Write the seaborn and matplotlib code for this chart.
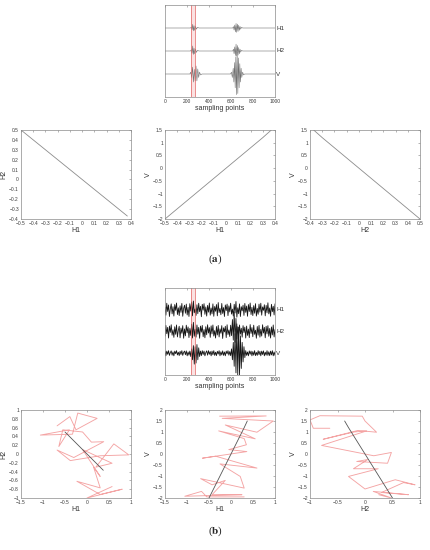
import numpy as np
import pandas as pd
import matplotlib
matplotlib.use("Agg")
import matplotlib.pyplot as plt
import seaborn as sns

# ---- (a) clean waveforms: sample index / amplitude break points ----
a_h1_t = [0, 232, 240, 246, 252, 258, 264, 270, 278, 286, 296, 308,
          616, 622, 628, 634, 640, 646, 652, 658, 664, 670, 676, 682, 688, 696, 706, 1000]
a_h1_v = [0, 0, 0.04, -0.08, 0.16, -0.12, 0.1, -0.1, 0.07, -0.05, 0.03, 0,
          0, 0.06, -0.09, 0.13, -0.17, 0.2, -0.19, 0.17, -0.15, 0.12, -0.1, 0.07, -0.05, 0.03, 0, 0]
a_h2_t = a_h1_t
a_h2_v = [0, 0, 0.06, -0.1, 0.22, -0.15, 0.12, -0.12, 0.08, -0.06, 0.03, 0,
          0, 0.08, -0.12, 0.18, -0.2, 0.3, -0.22, 0.24, -0.18, 0.15, -0.12, 0.08, -0.05, 0.03, 0, 0]
a_v_t = [0, 226, 234, 242, 250, 258, 266, 274, 282, 290, 298, 306, 314, 324, 336,
         596, 604, 612, 620, 626, 632, 638, 644, 650, 656, 662, 668, 674, 680, 686, 692, 698, 706, 714, 724,
         1000]
a_v_v = [0, 0, 0.08, -0.15, 0.3, -0.35, 0.2, -0.3, 0.35, -0.3, 0.22, -0.15, 0.08, -0.04, 0,
         0, 0.08, -0.15, 0.25, -0.35, 0.5, -0.6, 0.75, -0.9, 0.95, -0.85, 0.7, -0.6, 0.45, -0.35, 0.25, -0.15, 0.08, -0.04, 0,
         0]

# ---- (b) noisy waveforms, one value every ~8 samples ----
b_h1_v = [0.12, -0.25, 0.30, -0.08, 0.22, -0.31, 0.05, 0.27, -0.19, 0.14, -0.29, 0.24, -0.03, 0.31, -0.22,
          0.09, -0.27, 0.18, -0.12, 0.29, -0.30, 0.07, 0.21, -0.16, 0.26, -0.24, 0.11, -0.31, 0.28, -0.06,
          0.36, -0.28, 0.40, -0.14, 0.04, -0.26, 0.23, -0.18, 0.30, -0.09, 0.16, -0.32, 0.25, -0.02, 0.28,
          -0.21, 0.13, -0.29, 0.20, -0.11, 0.31, -0.25, 0.08, -0.19, 0.27, -0.30, 0.15, -0.07, 0.24, -0.28,
          0.33, -0.13, 0.06, -0.23, 0.29, -0.17, 0.10, -0.31, 0.22, -0.04, 0.26, -0.27, 0.18, -0.10, 0.30,
          -0.20, 0.03, -0.29, 0.25, -0.15, 0.38, -0.34, 0.09, -0.18, 0.27, -0.31, 0.14, -0.05, 0.21, -0.26,
          0.29, -0.12, 0.17, -0.30, 0.24, -0.08, 0.31, -0.22, 0.11, -0.27, 0.19, -0.16, 0.28, -0.29, 0.06,
          -0.21, 0.26, -0.11, 0.30, -0.25, 0.13, -0.03, 0.23, -0.28, 0.20, -0.14, 0.32, -0.19, 0.08, -0.30,
          0.25, -0.09, 0.16, -0.24, 0.27]
b_h2_v = [-0.21, 0.28, -0.10, 0.19, -0.30, 0.25, -0.04, 0.31, -0.17, 0.08, -0.27, 0.22, -0.13, 0.30, -0.25,
          0.05, 0.24, -0.29, 0.16, -0.08, 0.27, -0.31, 0.12, -0.20, 0.29, -0.06, 0.21, -0.28, 0.14, -0.18,
          0.34, -0.30, 0.42, -0.22, 0.10, -0.26, 0.30, -0.12, 0.19, -0.31, 0.25, -0.03, 0.28, -0.24, 0.09,
          -0.29, 0.22, -0.15, 0.31, -0.07, 0.18, -0.27, 0.26, -0.11, 0.30, -0.21, 0.04, -0.30, 0.23, -0.16,
          0.28, -0.25, 0.12, -0.08, 0.27, -0.32, 0.17, -0.02, 0.24, -0.28, 0.31, -0.14, 0.07, -0.23, 0.29,
          -0.19, 0.55, -0.40, 0.90, -0.50, 0.60, -0.35, 0.22, -0.29, 0.30, -0.12, 0.15, -0.26, 0.27, -0.05,
          0.20, -0.30, 0.25, -0.18, 0.11, -0.28, 0.32, -0.09, 0.18, -0.24, 0.29, -0.13, 0.06, -0.31, 0.23,
          -0.17, 0.28, -0.26, 0.10, -0.21, 0.31, -0.07, 0.19, -0.29, 0.24, -0.11, 0.27, -0.22, 0.14, -0.30,
          0.21, -0.16, 0.30, -0.25, 0.09]
b_v_v = [0.08, -0.12, 0.10, -0.05, 0.12, -0.10, 0.03, 0.11, -0.09, 0.06, -0.12, 0.10, -0.02, 0.12, -0.08,
         0.05, -0.11, 0.09, -0.06, 0.12, -0.10, 0.04, 0.10, -0.07, 0.11, -0.12, 0.06, -0.09,
         0.10, -0.15, 0.20, -0.30, 0.35, -0.50, 0.30, -0.45, 0.40, -0.30, 0.25, -0.15, 0.10,
         -0.11, 0.12, -0.06, 0.10, -0.12, 0.03, 0.11, -0.09, 0.12, -0.05, 0.08, -0.12, 0.10, -0.07,
         0.12, -0.10, 0.05, -0.11, 0.09, -0.04, 0.12, -0.12, 0.07, -0.08, 0.11, -0.10, 0.06, -0.12,
         0.10, -0.03, 0.12, -0.09, 0.08, -0.11,
         0.20, -0.30, 0.50, -0.60, 0.90, -0.90, 1.35, -1.05, 1.20, -1.00, 0.80, -0.70, 0.50, -0.40, 0.30, -0.20,
         0.12, -0.10, 0.06, -0.12, 0.11, -0.05, 0.10, -0.12, 0.08, -0.09, 0.12, -0.11, 0.04, -0.10,
         0.12, -0.07, 0.09, -0.12, 0.10, -0.06, 0.11, -0.12, 0.05, -0.09, 0.12, -0.10, 0.07, -0.11,
         0.10, -0.08, 0.12, -0.12, 0.06, -0.10]

# window (samples) used for the particle motion plots
window = [240, 275]

# ---- particle motion, clean signal in the window ----
pm_h1 = [-0.5, -0.3, -0.1, 0.1, 0.3, 0.37]
pm_h2 = [0.5, 0.3, 0.1, -0.1, -0.3, -0.37]
pm_v = [-2.0, -1.2, -0.4, 0.4, 1.2, 1.5]

# ---- particle motion, noisy signal in the window (traced paths) ----
n_h1h2_x = [-0.68, -0.39, -0.25, 0.23, -0.21, -0.33, -1.06, -0.40, -0.64, -0.55, -0.10, 0.10, 0.38, -0.30,
            -0.68, -0.38, 0.30, 0.95, 0.61, 0.20, 0.57, -0.10, 0.30, 0.15, 0.30, -0.23, 0.30, 0.80, 0.0, 0.57]
n_h1h2_y = [0.64, 0.85, 0.55, 0.81, 0.93, 0.45, 0.43, 0.55, 0.17, 0.55, 0.50, 0.27, 0.28, -0.08,
            0.09, -0.15, -0.04, -0.02, 0.23, -0.30, -0.21, 0.10, -0.51, -0.30, -0.77, -0.62, -0.92, -0.80, -1.0, -0.74]
n_h1v_x = [-0.26, 0.80, -0.20, 0.96, 0.59, -0.13, 0.55, -0.28, 0.30, 0.35, -0.05, 0.36, -0.65, -0.35,
           0.59, -0.25, 0.21, 0.30, -0.69, -0.43, -0.13, -0.43, 0.25, -1.05, -0.67, -0.55, 0.30]
n_h1v_y = [1.72, 1.73, 1.62, 1.50, 0.99, 1.32, 0.69, 1.05, 0.70, 0.42, 0.20, 0.11, -0.19, -0.10,
           -0.64, -0.45, -1.02, -1.55, -1.12, -1.40, -1.20, -1.85, -1.85, -1.92, -1.70, -1.95, -1.95]
n_h2v_x = [-0.64, -0.94, -1.0, -0.82, -0.05, 0.0, 0.21, -0.13, -0.76, -0.20, 0.03, -0.79, 0.16, 0.48,
           0.41, -0.15, 0.05, -0.21, 0.24, -0.30, 0.0, 0.55, 0.91, 0.70, 0.30, 0.79, 0.15, 0.48, 0.25]
n_h2v_y = [1.17, 1.17, 1.55, 1.74, 1.72, 1.50, 0.99, 1.07, 0.67, 1.00, 1.05, 0.39, -0.08, 0.07,
           -0.42, -0.34, -0.25, -0.67, -0.67, -1.02, -1.59, -1.17, -1.40, -1.30, -1.75, -1.85, -1.70, -2.0, -1.85]

trace_names = ["H1", "H2", "V"]
trace_offsets = [3, 2, 1]

sns.set_style("white")
plt.rcParams["font.family"] = ["Liberation Sans", "DejaVu Sans"]
plt.rcParams["mathtext.fontset"] = "stix"

W, H = 430, 550
fig = plt.figure(figsize=(4.3, 5.5), dpi=100)


def add_ax(x0, y0, x1, y1):
    return fig.add_axes([x0 / W, 1 - y1 / H, (x1 - x0) / W, (y1 - y0) / H])


def style(ax):
    for s in ax.spines.values():
        s.set_color("#8a8a8a")
        s.set_linewidth(0.5)
    ax.tick_params(direction="in", length=1.5, width=0.4, labelsize=3.5, pad=1.5,
                   colors="#7a7a7a", labelcolor="#3a3a3a", top=True, right=True,
                   labeltop=False, labelright=False)


def fmt(v):
    s = f"{v:.1f}".rstrip("0").rstrip(".")
    if s in ("-0", ""):
        s = "0"
    return s.replace("-", "\u2212")


def set_ticks(ax, xt, yt):
    ax.set_xticks(xt)
    ax.set_xticklabels([fmt(v) for v in xt])
    ax.set_yticks(yt)
    ax.set_yticklabels([fmt(v) for v in yt])
    ax.set_xlim(xt[0], xt[-1])
    ax.set_ylim(yt[0], yt[-1])


def waveform_panel(ax, traces, color, lw):
    for (t, v), name, off in zip(traces, trace_names, trace_offsets):
        df = pd.DataFrame({"t": t, "amp": np.asarray(v) + off})
        sns.lineplot(data=df, x="t", y="amp", sort=False, estimator=None,
                     color=color, linewidth=lw, ax=ax)
        ax.text(1012, off, name, fontsize=4.5, va="center", ha="left", color="#333333")
    ax.axvspan(window[0], window[1], color="#f9d0d0", alpha=0.6, lw=0)
    for w in window:
        ax.axvline(w, color="#e06060", lw=0.5)
    ax.set_xlim(0, 1000)
    ax.set_ylim(0, 4)
    ax.set_xticks([0, 200, 400, 600, 800, 1000])
    ax.set_yticks([])
    ax.set_xlabel("sampling points", fontsize=5, labelpad=1, color="#333333")
    ax.set_ylabel("")
    style(ax)
    ax.tick_params(left=False, right=False)


def pm_panel(ax, x, y, xl, yl, xt, yt, nx=None, ny=None):
    if nx is not None:
        sns.lineplot(x=nx, y=ny, sort=False, estimator=None, color="#f4a4a4",
                     linewidth=0.65, ax=ax)
    sns.lineplot(x=x, y=y, sort=False, estimator=None,
                 color="#8c8c8c" if nx is None else "#555555", linewidth=0.6, ax=ax)
    set_ticks(ax, xt, yt)
    ax.set_xlabel(xl, fontsize=5, labelpad=1, color="#333333")
    ax.set_ylabel(yl, fontsize=5, labelpad=1, color="#333333")
    style(ax)


def rng(a, b, step):
    return [round(a + i * step, 2) for i in range(int(round((b - a) / step)) + 1)]


# (a)
ax = add_ax(165, 5, 275, 97)
waveform_panel(ax, [(a_h1_t, a_h1_v), (a_h2_t, a_h2_v), (a_v_t, a_v_v)], "#707070", 0.4)

ax = add_ax(21, 130, 131, 219)
pm_panel(ax, pm_h1, pm_h2, "H1", "H2", rng(-0.5, 0.4, 0.1), rng(-0.4, 0.5, 0.1))
ax = add_ax(165, 130, 275, 219)
pm_panel(ax, pm_h1, pm_v, "H1", "V", rng(-0.5, 0.4, 0.1), rng(-2, 1.5, 0.5))
ax = add_ax(310, 130, 420, 219)
pm_panel(ax, pm_h2, pm_v, "H2", "V", rng(-0.4, 0.5, 0.1), rng(-2, 1.5, 0.5))

# (b)
ax = add_ax(165, 288, 275, 375)
waveform_panel(ax, [(np.linspace(0, 1000, len(b_h1_v)), b_h1_v),
                    (np.linspace(0, 1000, len(b_h2_v)), b_h2_v),
                    (np.linspace(0, 1000, len(b_v_v)), b_v_v)], "#161616", 0.6)

ax = add_ax(21, 410, 131, 498)
pm_panel(ax, pm_h1, pm_h2, "H1", "H2", rng(-1.5, 1, 0.5), rng(-1, 1, 0.2), n_h1h2_x, n_h1h2_y)
ax = add_ax(165, 410, 275, 498)
pm_panel(ax, pm_h1, pm_v, "H1", "V", rng(-1.5, 1, 0.5), rng(-2, 2, 0.5), n_h1v_x, n_h1v_y)
ax = add_ax(310, 410, 420, 498)
pm_panel(ax, pm_h2, pm_v, "H2", "V", rng(-1, 1, 0.5), rng(-2, 2, 0.5), n_h2v_x, n_h2v_y)

fig.text(215 / W, 1 - 259 / H, r"($\mathbf{a}$)", ha="center", va="center", fontsize=8,
         family="Liberation Serif")
fig.text(215 / W, 1 - 531 / H, r"($\mathbf{b}$)", ha="center", va="center", fontsize=8,
         family="Liberation Serif")

fig.savefig("out.png", dpi=100)
